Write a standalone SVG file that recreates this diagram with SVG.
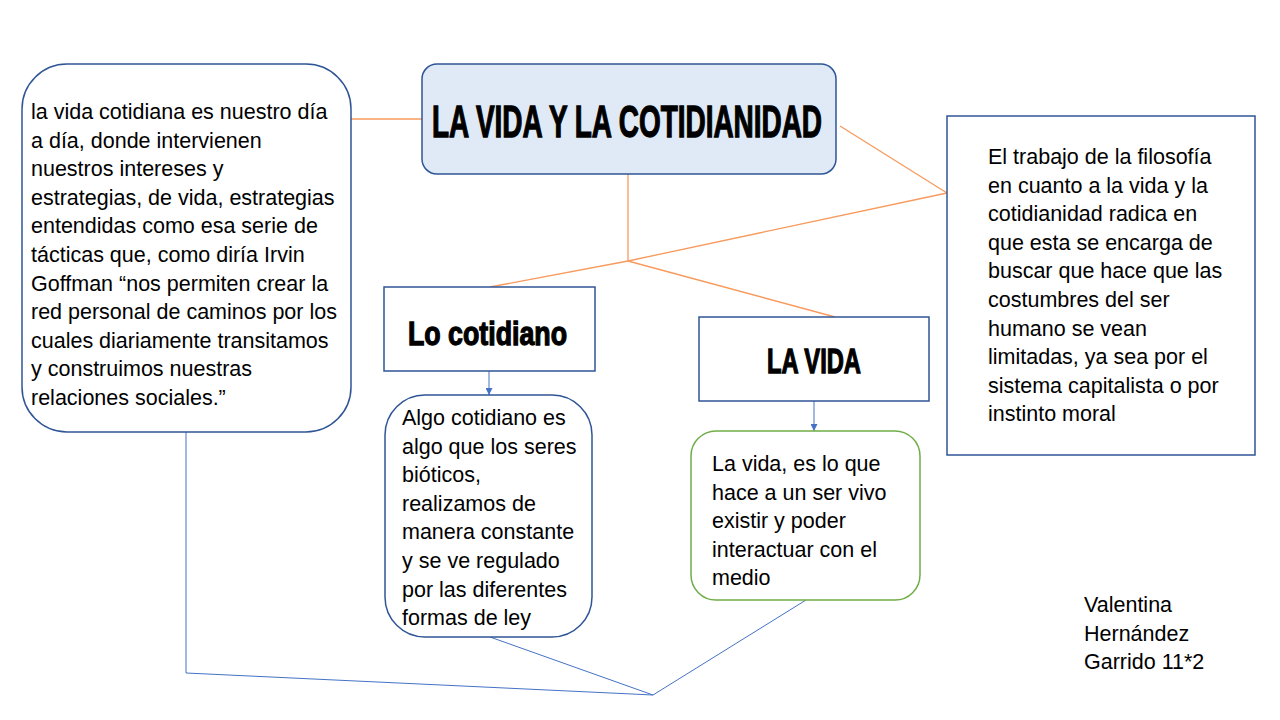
<svg xmlns="http://www.w3.org/2000/svg" width="1280" height="720" viewBox="0 0 1280 720">
<defs>
<style>
.box{fill:#ffffff;stroke:#2f5597;stroke-width:1.5}
.green{fill:#ffffff;stroke:#70ad47;stroke-width:1.5}
.title{fill:#dfeaf6;stroke:#2f5597;stroke-width:1.5}
.body{font-family:"Liberation Sans",Arial,sans-serif;font-size:21.5px;fill:#000}
.head{font-family:"Liberation Sans Narrow","Liberation Sans",Arial,sans-serif;font-weight:bold;fill:#000;stroke:#000;stroke-width:1.3}
.or{stroke:#f79a5c;stroke-width:1.3;fill:none}
.bl{stroke:#4472c4;stroke-width:1;fill:none}
</style>
<marker id="arr" viewBox="0 0 10 10" refX="10" refY="5" markerWidth="7" markerHeight="7" markerUnits="userSpaceOnUse" orient="auto">
<path d="M0,0 L10,5 L0,10 z" fill="#4472c4"/>
</marker>
</defs>
<rect width="1280" height="720" fill="#ffffff"/>
<g id="connectors">
<line class="or" x1="351" y1="119" x2="422" y2="119"/>
<line class="or" x1="628" y1="174" x2="628" y2="261"/>
<line class="or" x1="628" y1="261" x2="490" y2="287"/>
<line class="or" x1="628" y1="261" x2="835" y2="317"/>
<line class="or" x1="628" y1="261" x2="947" y2="193"/>
<line class="or" x1="840" y1="126" x2="947" y2="193"/>
<line class="bl" x1="489" y1="371" x2="489" y2="395" marker-end="url(#arr)"/>
<line class="bl" x1="814" y1="401" x2="814" y2="431" marker-end="url(#arr)"/>
<polyline class="bl" points="186,432 186,673 653,695"/>
<line class="bl" x1="490" y1="637" x2="653" y2="695"/>
<line class="bl" x1="806" y1="600" x2="653" y2="695"/>
</g>
<g id="left-box">
<rect class="box" x="22" y="64" width="329" height="368" rx="45"/>
<text class="body" x="31" y="119">la vida cotidiana es nuestro día<tspan x="31" dy="28.6">a día, donde intervienen</tspan><tspan x="31" dy="28.6">nuestros intereses y</tspan><tspan x="31" dy="28.6">estrategias, de vida, estrategias</tspan><tspan x="31" dy="28.6">entendidas como esa serie de</tspan><tspan x="31" dy="28.6">tácticas que, como diría Irvin</tspan><tspan x="31" dy="28.6">Goffman “nos permiten crear la</tspan><tspan x="31" dy="28.6">red personal de caminos por los</tspan><tspan x="31" dy="28.6">cuales diariamente transitamos</tspan><tspan x="31" dy="28.6">y construimos nuestras</tspan><tspan x="31" dy="28.6">relaciones sociales.”</tspan></text>
</g>
<g id="title">
<rect class="title" x="422" y="64" width="414" height="110" rx="15"/>
<text class="head" x="432" y="137" font-size="45" textLength="390" lengthAdjust="spacingAndGlyphs">LA VIDA Y LA COTIDIANIDAD</text>
</g>
<g id="right-box">
<rect class="box" x="947" y="116" width="308" height="339"/>
<text class="body" x="988" y="164">El trabajo de la filosofía<tspan x="988" dy="28.6">en cuanto a la vida y la</tspan><tspan x="988" dy="28.6">cotidianidad radica en</tspan><tspan x="988" dy="28.6">que esta se encarga de</tspan><tspan x="988" dy="28.6">buscar que hace que las</tspan><tspan x="988" dy="28.6">costumbres del ser</tspan><tspan x="988" dy="28.6">humano se vean</tspan><tspan x="988" dy="28.6">limitadas, ya sea por el</tspan><tspan x="988" dy="28.6">sistema capitalista o por</tspan><tspan x="988" dy="28.6">instinto moral</tspan></text>
</g>
<g id="lo-cotidiano">
<rect class="box" x="384" y="287" width="211" height="84"/>
<text class="head" x="408" y="345" font-size="34" textLength="159" lengthAdjust="spacingAndGlyphs">Lo cotidiano</text>
</g>
<g id="la-vida">
<rect class="box" x="699" y="317" width="230" height="84"/>
<text class="head" x="767" y="373" font-size="35" textLength="94" lengthAdjust="spacingAndGlyphs">LA VIDA</text>
</g>
<g id="algo-cotidiano">
<rect class="box" x="385" y="395" width="207" height="242" rx="40"/>
<text class="body" x="402" y="425">Algo cotidiano es<tspan x="402" dy="28.6">algo que los seres</tspan><tspan x="402" dy="28.6">bióticos,</tspan><tspan x="402" dy="28.6">realizamos de</tspan><tspan x="402" dy="28.6">manera constante</tspan><tspan x="402" dy="28.6">y se ve regulado</tspan><tspan x="402" dy="28.6">por las diferentes</tspan><tspan x="402" dy="28.6">formas de ley</tspan></text>
</g>
<g id="vida-def">
<rect class="green" x="691" y="431" width="229" height="169" rx="25"/>
<text class="body" x="712" y="471">La vida, es lo que<tspan x="712" dy="28.6">hace a un ser vivo</tspan><tspan x="712" dy="28.6">existir y poder</tspan><tspan x="712" dy="28.6">interactuar con el</tspan><tspan x="712" dy="28.6">medio</tspan></text>
</g>
<g id="author">
<text class="body" x="1084" y="612">Valentina<tspan x="1084" dy="28.6">Hernández</tspan><tspan x="1084" dy="28.6">Garrido 11*2</tspan></text>
</g>
</svg>
